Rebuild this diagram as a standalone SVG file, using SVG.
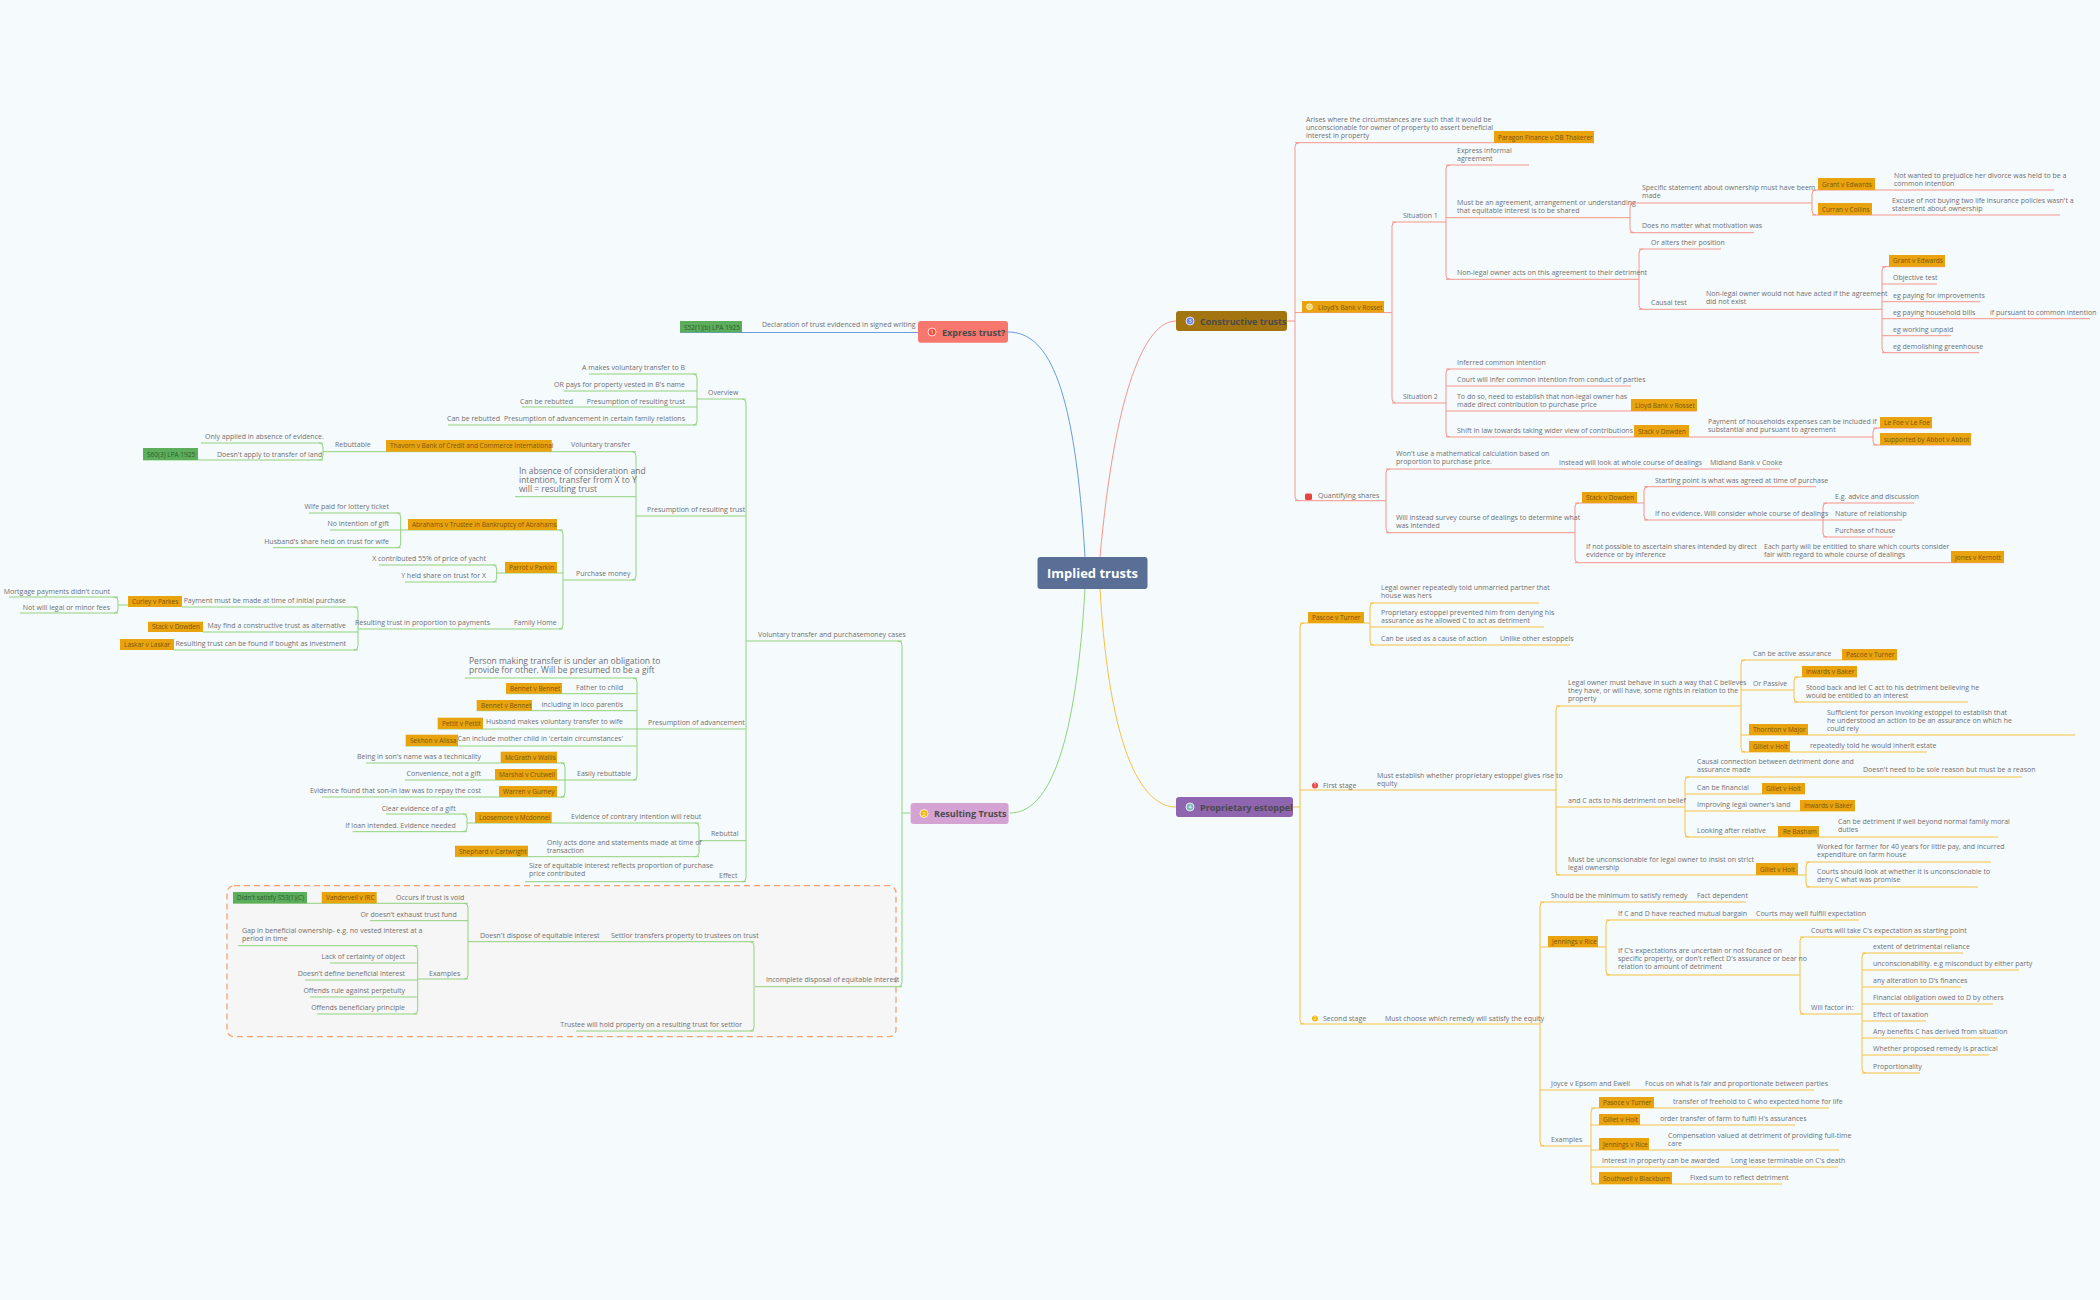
<svg xmlns="http://www.w3.org/2000/svg" width="2100" height="1300" viewBox="0 0 2100 1300">
<style>
text{font-family:"Open Sans","Noto Sans","Liberation Sans",sans-serif}
.t{font-size:7px;fill:#707070}
.L{font-size:8.5px;fill:#707070}
.e{text-anchor:end}
.k{font-size:6.5px;fill:#7a5608}
.kg{font-size:6.5px;fill:#2e5e2e}
.box{fill:#e9a30f}
.gbox{fill:#5cad5c}
path{fill:none}
.r{stroke:#f5958c;stroke-width:1}
.y{stroke:#f6c244;stroke-width:1}
.g{stroke:#92d27c;stroke-width:1}
.b{stroke:#6a9be0;stroke-width:1}
.main{font-size:9px;font-weight:bold;fill:#4a4a4a}
</style>
<rect width="2100" height="1300" fill="#f5fafd"/>
<rect x="227" y="885.7" width="669" height="151" rx="7" fill="#f6f6f6" stroke="#f4a070" stroke-width="1.3" stroke-dasharray="6,4"/>

<g id="connectors">
<path class="b" stroke-width="1.5" d="M1085,557 C1075,390 1050,332 1008,332"/>
<path class="r" stroke-width="1.5" d="M1100,557 C1115,390 1145,321 1176,321"/>
<path class="g" stroke-width="1.5" d="M1085,589 C1075,760 1045,813 1010,813"/>
<path class="y" stroke-width="1.5" d="M1100,589 C1110,760 1145,807 1176,807"/>
<path class="r" d="M1287,321H1295"/>
<path class="r" d="M1299,142.7Q1295,142.7 1295,146.7V496.7Q1295,500.7 1299,500.7"/>
<path class="r" d="M1396,222Q1392,222 1392,226V399Q1392,403 1396,403"/>
<path class="r" d="M1450,165Q1446,165 1446,169V275.3Q1446,279.3 1450,279.3"/>
<path class="r" d="M1634,203Q1630,203 1630,207V228.7Q1630,232.7 1634,232.7"/>
<path class="r" d="M1816,190Q1812,190 1812,194V211Q1812,215 1816,215"/>
<path class="r" d="M1643,249Q1639,249 1639,253V305.3Q1639,309.3 1643,309.3"/>
<path class="r" d="M1886,266.7Q1882,266.7 1882,270.7V348.7Q1882,352.7 1886,352.7"/>
<path class="r" d="M1450,369Q1446,369 1446,373V433Q1446,437 1450,437"/>
<path class="r" d="M1877,428Q1873,428 1873,432V441Q1873,445 1877,445"/>
<path class="r" d="M1390,469Q1386,469 1386,473V528.7Q1386,532.7 1390,532.7"/>
<path class="r" d="M1579,503Q1575,503 1575,507V558.7Q1575,562.7 1579,562.7"/>
<path class="r" d="M1648,486.7Q1644,486.7 1644,490.7V516Q1644,520 1648,520"/>
<path class="r" d="M1827,503Q1823,503 1823,507V533Q1823,537 1827,537"/>
<path class="y" d="M1293,807H1300"/>
<path class="y" d="M1304,623Q1300,623 1300,627V1020Q1300,1024 1304,1024"/>
<path class="y" d="M1374,603Q1370,603 1370,607V641Q1370,645 1374,645"/>
<path class="y" d="M1560,706Q1556,706 1556,710V871Q1556,875 1560,875"/>
<path class="y" d="M1745,660Q1741,660 1741,664V748Q1741,752 1745,752"/>
<path class="y" d="M1798,677Q1794,677 1794,681V698Q1794,702 1798,702"/>
<path class="y" d="M1689,777Q1685,777 1685,781V833Q1685,837 1689,837"/>
<path class="y" d="M1810,862Q1806,862 1806,866V883Q1806,887 1810,887"/>
<path class="y" d="M1544,902Q1540,902 1540,906V1142Q1540,1146 1544,1146"/>
<path class="y" d="M1610,920Q1606,920 1606,924V971Q1606,975 1610,975"/>
<path class="y" d="M1804,937Q1800,937 1800,941V1010Q1800,1014 1804,1014"/>
<path class="y" d="M1866,953Q1862,953 1862,957V1069Q1862,1073 1866,1073"/>
<path class="y" d="M1595,1108Q1591,1108 1591,1112V1180Q1591,1184 1595,1184"/>
<path class="g" d="M910,813H902"/>
<path class="g" d="M898,641Q902,641 902,645V982.7Q902,986.7 898,986.7"/>
<path class="g" d="M742,399Q746,399 746,403V877.7Q746,881.7 742,881.7"/>
<path class="g" d="M693,374Q697,374 697,378V421Q697,425 693,425"/>
<path class="g" d="M632,451.7Q636,451.7 636,455.7V576Q636,580 632,580"/>
<path class="g" d="M319,443Q323,443 323,447V456Q323,460 319,460"/>
<path class="g" d="M559,530Q563,530 563,534V625Q563,629 559,629"/>
<path class="g" d="M396.7,513Q400.7,513 400.7,517V543.7Q400.7,547.7 396.7,547.7"/>
<path class="g" d="M492.7,565Q496.7,565 496.7,569V578Q496.7,582 492.7,582"/>
<path class="g" d="M354,607Q358,607 358,611V646Q358,650 354,650"/>
<path class="g" d="M114,597Q118,597 118,601V609Q118,613 114,613M118,605H128"/>
<path class="g" d="M633,678Q637,678 637,682V776Q637,780 633,780"/>
<path class="g" d="M561,763Q565,763 565,767V793Q565,797 561,797"/>
<path class="g" d="M695,823Q699,823 699,827V852.7Q699,856.7 695,856.7"/>
<path class="g" d="M463,814Q467,814 467,818V827.7Q467,831.7 463,831.7"/>
<path class="g" d="M750,941.7Q754,941.7 754,945.7V1027Q754,1031 750,1031"/>
<path class="g" d="M464,903.3Q468,903.3 468,907.3V975Q468,979 464,979"/>
<path class="g" d="M413.7,945.7Q417.7,945.7 417.7,949.7V1010Q417.7,1014 413.7,1014"/>
</g>

<g id="root"><rect x="1037.5" y="557" width="110" height="32" rx="3" fill="#5a6f96"/><text x="1092.5" y="577.5" text-anchor="middle" font-size="13" font-weight="bold" fill="#ffffff">Implied trusts</text></g>

<g id="express"><rect x="918" y="321" width="90" height="21.7" rx="3" fill="#f7776e"/><circle cx="932" cy="332" r="4" fill="#f24b3f" stroke="#fff" stroke-width="0.8"/><text x="932" y="334.3" font-size="5.5" fill="#fff" text-anchor="middle">1</text><text class="main" x="942" y="335.5">Express trust?</text></g>
<g id="e1"><path class="b" d="M680,332.5H918"/><rect class="gbox" x="680" y="321" width="62" height="11.5"/><text class="kg" x="684" y="329.5">S52(1)(b) LPA 1925</text><text class="t" x="762" y="327">Declaration of trust evidenced in signed writing</text></g>

<g id="constructive"><rect x="1176" y="311" width="111" height="20" rx="3" fill="#a27510"/><circle cx="1190" cy="321" r="4" fill="#6b82e8" stroke="#fff" stroke-width="0.8"/><text x="1190" y="323.3" font-size="5.5" fill="#fff" text-anchor="middle">3</text><text class="main" x="1200" y="324.5">Constructive trusts</text></g>
<g id="c1"><path class="r" d="M1295,142.7H1594"/><text class="t" x="1306" y="122">Arises where the circumstances are such that it would be<tspan x="1306" dy="8">unconscionable for owner of property to assert beneficial</tspan><tspan x="1306" dy="8">interest in property</tspan></text><rect class="box" x="1494" y="131" width="100" height="12"/><text class="k" x="1498" y="139.5">Paragon Finance v DB Thakerer</text></g>
<g id="c2"><path class="r" d="M1295,312.6H1392"/><rect class="box" x="1302" y="301" width="82" height="11.6"/><circle cx="1309.5" cy="306.8" r="3" fill="#f7d46a" stroke="#fff" stroke-width="0.6"/><text class="k" x="1318" y="309.5">Lloyd's Bank v Rosset</text></g>
<g id="c3"><path class="r" d="M1392,222H1446"/><text class="t" x="1403" y="218">Situation 1</text></g>
<g id="c4"><path class="r" d="M1446,165H1529"/><text class="t" x="1457" y="153">Express informal<tspan x="1457" dy="8">agreement</tspan></text></g>
<g id="c5"><path class="r" d="M1446,217.7H1630"/><text class="t" x="1457" y="205">Must be an agreement, arrangement or understanding<tspan x="1457" dy="8">that equitable interest is to be shared</tspan></text></g>
<g id="c6"><path class="r" d="M1630,203H1812"/><text class="t" x="1642" y="190">Specific statement about ownership must have beem<tspan x="1642" dy="8">made</tspan></text></g>
<g id="c7"><path class="r" d="M1812,190H2054"/><rect class="box" x="1818" y="178" width="57" height="12"/><text class="k" x="1822" y="186.5">Grant v Edwards</text><text class="t" x="1894" y="178">Not wanted to prejudice her divorce was held to be a<tspan x="1894" dy="8">common intention</tspan></text></g>
<g id="c8"><path class="r" d="M1812,215H2060"/><rect class="box" x="1818" y="203" width="54" height="12"/><text class="k" x="1822" y="211.5">Curran v Collins</text><text class="t" x="1892" y="203">Excuse of not buying two life insurance policies wasn't a<tspan x="1892" dy="8">statement about ownership</tspan></text></g>
<g id="c9"><path class="r" d="M1630,232.7H1754"/><text class="t" x="1642" y="228">Does no matter what motivation was</text></g>
<g id="c10"><path class="r" d="M1446,279.3H1639"/><text class="t" x="1457" y="275">Non-legal owner acts on this agreement to their detriment</text></g>
<g id="c11"><path class="r" d="M1639,249H1721"/><text class="t" x="1651" y="245">Or alters their position</text></g>
<g id="c12"><path class="r" d="M1639,309.3H1882"/><text class="t" x="1651" y="305">Causal test</text><text class="t" x="1706" y="296">Non-legal owner would not have acted if the agreement<tspan x="1706" dy="8">did not exist</tspan></text></g>
<g id="c13"><path class="r" d="M1882,266.7H1945"/><rect class="box" x="1889" y="255" width="56" height="11.7"/><text class="k" x="1893" y="263.3">Grant v Edwards</text></g>
<g id="c14"><path class="r" d="M1882,284H1937"/><text class="t" x="1893" y="280">Objective test</text></g>
<g id="c15"><path class="r" d="M1882,301.7H1980"/><text class="t" x="1893" y="297.5">eg paying for improvements</text></g>
<g id="c16"><path class="r" d="M1882,318.7H2090"/><text class="t" x="1893" y="314.5">eg paying household bills</text><text class="t" x="1990" y="314.5">if pursuant to common intention</text></g>
<g id="c17"><path class="r" d="M1882,335.7H1951"/><text class="t" x="1893" y="331.5">eg working unpaid</text></g>
<g id="c18"><path class="r" d="M1882,352.7H1979"/><text class="t" x="1893" y="348.5">eg demolishing greenhouse</text></g>
<g id="c19"><path class="r" d="M1392,403H1446"/><text class="t" x="1403" y="399">Situation 2</text></g>
<g id="c20"><path class="r" d="M1446,369H1541"/><text class="t" x="1457" y="365">Inferred common intention</text></g>
<g id="c21"><path class="r" d="M1446,386H1631"/><text class="t" x="1457" y="382">Court will infer common intention from conduct of parties</text></g>
<g id="c22"><path class="r" d="M1446,411H1697"/><text class="t" x="1457" y="399">To do so, need to establish that non-legal owner has<tspan x="1457" dy="8">made direct contribution to purchase price</tspan></text><rect class="box" x="1631" y="399" width="66" height="12"/><text class="k" x="1635" y="407.5">Lloyd Bank v Rosset</text></g>
<g id="c23"><path class="r" d="M1446,437H1873"/><text class="t" x="1457" y="433">Shift in law towards taking wider view of contributions</text><rect class="box" x="1634" y="425" width="55" height="12"/><text class="k" x="1638" y="433.5">Stack v Dowden</text><text class="t" x="1708" y="424">Payment of households expenses can be included if<tspan x="1708" dy="8">substantial and pursuant to agreement</tspan></text></g>
<g id="c24"><path class="r" d="M1873,428H1932"/><rect class="box" x="1880" y="417" width="52" height="11"/><text class="k" x="1884" y="425">Le Foe v Le Foe</text></g>
<g id="c25"><path class="r" d="M1873,445H1971"/><rect class="box" x="1880" y="433" width="91" height="12"/><text class="k" x="1884" y="441.5">supported by Abbot v Abbot</text></g>
<g id="c26"><path class="r" d="M1295,500.7H1386"/><rect x="1305" y="493.5" width="7" height="6.5" rx="1.5" fill="#e8453c"/><text class="t" x="1318" y="498">Quantifying shares</text></g>
<g id="c27"><path class="r" d="M1386,469H1780"/><text class="t" x="1396" y="456">Won't use a mathematical calculation based on<tspan x="1396" dy="8">proportion to purchase price.</tspan></text><text class="t" x="1559" y="464.5">Instead will look at whole course of dealings</text><text class="t" x="1710" y="464.5">Midland Bank v Cooke</text></g>
<g id="c28"><path class="r" d="M1386,532.7H1575"/><text class="t" x="1396" y="520">Will instead survey course of dealings to determine what<tspan x="1396" dy="8">was intended</tspan></text></g>
<g id="c29"><path class="r" d="M1575,503H1644"/><rect class="box" x="1582" y="492" width="55" height="11"/><text class="k" x="1586" y="500">Stack v Dowden</text></g>
<g id="c30"><path class="r" d="M1644,486.7H1816"/><text class="t" x="1655" y="482.5">Starting point is what was agreed at time of purchase</text></g>
<g id="c31"><path class="r" d="M1644,520H1823"/><text class="t" x="1655" y="516">If no evidence. Will consider whole course of dealings</text></g>
<g id="c32"><path class="r" d="M1823,503H1914"/><text class="t" x="1835" y="499">E.g. advice and discussion</text></g>
<g id="c33"><path class="r" d="M1823,520H1902"/><text class="t" x="1835" y="516">Nature of relationship</text></g>
<g id="c34"><path class="r" d="M1823,537H1893"/><text class="t" x="1835" y="533">Purchase of house</text></g>
<g id="c35"><path class="r" d="M1575,562.7H2004"/><text class="t" x="1586" y="549">If not possible to ascertain shares intended by direct<tspan x="1586" dy="8">evidence or by inference</tspan></text><text class="t" x="1764" y="549">Each party will be entitled to share which courts consider<tspan x="1764" dy="8">fair with regard to whole course of dealings</tspan></text><rect class="box" x="1951" y="551" width="53" height="11.7"/><text class="k" x="1955" y="559.5">Jones v Kernott</text></g>

<g id="estoppel"><rect x="1176" y="797" width="117" height="20" rx="3" fill="#9065b0"/><circle cx="1190" cy="807" r="4" fill="#7bb5b5" stroke="#fff" stroke-width="0.8"/><text x="1190" y="809.3" font-size="5.5" fill="#fff" text-anchor="middle">4</text><text class="main" x="1200" y="810.5">Proprietary estoppel</text></g>
<g id="p1"><path class="y" d="M1300,623H1370"/><rect class="box" x="1308" y="612" width="56" height="11"/><text class="k" x="1312" y="620">Pascoe v Turner</text></g>
<g id="p2"><path class="y" d="M1370,603H1539"/><text class="t" x="1381" y="590">Legal owner repeatedly told unmarried partner that<tspan x="1381" dy="8">house was hers</tspan></text></g>
<g id="p3"><path class="y" d="M1370,627H1544"/><text class="t" x="1381" y="615">Proprietary estoppel prevented him from denying his<tspan x="1381" dy="8">assurance as he allowed C to act as detriment</tspan></text></g>
<g id="p4"><path class="y" d="M1370,645H1570"/><text class="t" x="1381" y="641">Can be used as a cause of action</text><text class="t" x="1500" y="641">Unlike other estoppels</text></g>
<g id="p5"><path class="y" d="M1300,790H1556"/><circle cx="1315" cy="785.5" r="3" fill="#e8453c"/><text x="1315" y="787.3" font-size="4.5" fill="#fff" text-anchor="middle">1</text><text class="t" x="1323" y="787.5">First stage</text><text class="t" x="1377" y="778">Must establish whether proprietary estoppel gives rise to<tspan x="1377" dy="8">equity</tspan></text></g>
<g id="p6"><path class="y" d="M1556,706H1741"/><text class="t" x="1568" y="685">Legal owner must behave in such a way that C believes<tspan x="1568" dy="8">they have, or will have, some rights in relation to the</tspan><tspan x="1568" dy="8">property</tspan></text></g>
<g id="p7"><path class="y" d="M1741,660H1897"/><text class="t" x="1753" y="656">Can be active assurance</text><rect class="box" x="1842" y="649" width="55" height="11"/><text class="k" x="1846" y="657">Pascoe v Turner</text></g>
<g id="p8"><path class="y" d="M1741,690H1794"/><text class="t" x="1753" y="686">Or Passive</text></g>
<g id="p9"><path class="y" d="M1794,677H1857"/><rect class="box" x="1802" y="666" width="55" height="11"/><text class="k" x="1806" y="674">Inwards v Baker</text></g>
<g id="p10"><path class="y" d="M1794,702H1968"/><text class="t" x="1806" y="690">Stood back and let C act to his detriment believing he<tspan x="1806" dy="8">would be entitled to an interest</tspan></text></g>
<g id="p11"><path class="y" d="M1741,735H2075"/><rect class="box" x="1749" y="724" width="59" height="11"/><text class="k" x="1753" y="732">Thornton v Major</text><text class="t" x="1827" y="715">Sufficient for person invoking estoppel to establish that<tspan x="1827" dy="8">he understood an action to be an assurance on which he</tspan><tspan x="1827" dy="8">could rely</tspan></text></g>
<g id="p12"><path class="y" d="M1741,752H1927"/><rect class="box" x="1749" y="741" width="41" height="11"/><text class="k" x="1753" y="749">Gillet v Holt</text><text class="t" x="1810" y="748">repeatedly told he would inherit estate</text></g>
<g id="p13"><path class="y" d="M1556,807H1685"/><text class="t" x="1568" y="803">and C acts to his detriment on belief</text></g>
<g id="p14"><path class="y" d="M1685,777H2022"/><text class="t" x="1697" y="764">Causal connection between detriment done and<tspan x="1697" dy="8">assurance made</tspan></text><text class="t" x="1863" y="772">Doesn't need to be sole reason but must be a reason</text></g>
<g id="p15"><path class="y" d="M1685,794H1805"/><text class="t" x="1697" y="790">Can be financial</text><rect class="box" x="1762" y="783" width="43" height="11"/><text class="k" x="1766" y="791">Gillet v Holt</text></g>
<g id="p16"><path class="y" d="M1685,811H1855"/><text class="t" x="1697" y="807">Improving legal owner's land</text><rect class="box" x="1800" y="800" width="55" height="11"/><text class="k" x="1804" y="808">Inwards v Baker</text></g>
<g id="p17"><path class="y" d="M1685,837H1998"/><text class="t" x="1697" y="833">Looking after relative</text><rect class="box" x="1778" y="826" width="41" height="11"/><text class="k" x="1783" y="834">Re Basham</text><text class="t" x="1838" y="824">Can be detriment if well beyond normal family moral<tspan x="1838" dy="8">duties</tspan></text></g>
<g id="p18"><path class="y" d="M1556,875H1806"/><text class="t" x="1568" y="862">Must be unconscionable for legal owner to insist on strict<tspan x="1568" dy="8">legal ownership</tspan></text><rect class="box" x="1756" y="863" width="42" height="12"/><text class="k" x="1760" y="871.5">Gillet v Holt</text></g>
<g id="p19"><path class="y" d="M1806,862H1991"/><text class="t" x="1817" y="849">Worked for farmer for 40 years for little pay, and incurred<tspan x="1817" dy="8">expenditure on farm house</tspan></text></g>
<g id="p20"><path class="y" d="M1806,887H1978"/><text class="t" x="1817" y="874">Courts should look at whether it is unconscionable to<tspan x="1817" dy="8">deny C what was promise</tspan></text></g>
<g id="p21"><path class="y" d="M1300,1024H1540"/><circle cx="1315" cy="1018.5" r="3" fill="#f5b700"/><text x="1315" y="1020.3" font-size="4.5" fill="#fff" text-anchor="middle">2</text><text class="t" x="1323" y="1020.5">Second stage</text><text class="t" x="1385" y="1020.5">Must choose which remedy will satisfy the equity</text></g>
<g id="p22"><path class="y" d="M1540,902H1746"/><text class="t" x="1551" y="897.5">Should be the minimum to satisfy remedy</text><text class="t" x="1697" y="897.5">Fact dependent</text></g>
<g id="p23"><path class="y" d="M1540,947H1606"/><rect class="box" x="1548" y="936" width="50" height="11"/><text class="k" x="1552" y="944">Jennings v Rice</text></g>
<g id="p24"><path class="y" d="M1606,920H1859"/><text class="t" x="1618" y="915.5">If C and D have reached mutual bargain</text><text class="t" x="1756" y="915.5">Courts may well fulfill expectation</text></g>
<g id="p25"><path class="y" d="M1606,975H1800"/><text class="t" x="1618" y="953">If C's expectations are uncertain or not focused on<tspan x="1618" dy="8">specific property, or don't reflect D's assurance or bear no</tspan><tspan x="1618" dy="8">relation to amount of detriment</tspan></text></g>
<g id="p26"><path class="y" d="M1800,937H1952"/><text class="t" x="1811" y="933">Courts will take C's expectation as starting point</text></g>
<g id="p27"><path class="y" d="M1800,1014H1862"/><text class="t" x="1811" y="1010">Will factor in:</text></g>
<g id="p28"><path class="y" d="M1862,953H1963"/><text class="t" x="1873" y="949">extent of detrimental reliance</text></g>
<g id="p29"><path class="y" d="M1862,970H2019"/><text class="t" x="1873" y="966">unconscionability. e.g misconduct by either party</text></g>
<g id="p30"><path class="y" d="M1862,987H1961"/><text class="t" x="1873" y="983">any alteration to D's finances</text></g>
<g id="p31"><path class="y" d="M1862,1004H1993"/><text class="t" x="1873" y="1000">Financial obligation owed to D by others</text></g>
<g id="p32"><path class="y" d="M1862,1021H1926"/><text class="t" x="1873" y="1017">Effect of taxation</text></g>
<g id="p33"><path class="y" d="M1862,1038H1997"/><text class="t" x="1873" y="1034">Any benefits C has derived from situation</text></g>
<g id="p34"><path class="y" d="M1862,1055H1989"/><text class="t" x="1873" y="1051">Whether proposed remedy is practical</text></g>
<g id="p35"><path class="y" d="M1862,1073H1920"/><text class="t" x="1873" y="1069">Proportionality</text></g>
<g id="p36"><path class="y" d="M1540,1090H1814"/><text class="t" x="1551" y="1086">Joyce v Epsom and Ewell</text><text class="t" x="1645" y="1086">Focus on what is fair and proportionate between parties</text></g>
<g id="p37"><path class="y" d="M1540,1146H1591"/><text class="t" x="1551" y="1142">Examples</text></g>
<g id="p38"><path class="y" d="M1591,1108H1829"/><rect class="box" x="1599" y="1097" width="55" height="11"/><text class="k" x="1603" y="1105">Pasoce v Turner</text><text class="t" x="1673" y="1104">transfer of freehold to C who expected home for life</text></g>
<g id="p39"><path class="y" d="M1591,1125H1795"/><rect class="box" x="1599" y="1114" width="41" height="11"/><text class="k" x="1603" y="1122">Gillet v Holt</text><text class="t" x="1660" y="1121">order transfer of farm to fulfil H's assurances</text></g>
<g id="p40"><path class="y" d="M1591,1150H1839"/><rect class="box" x="1599" y="1138" width="50" height="12"/><text class="k" x="1603" y="1146.5">Jennings v Rice</text><text class="t" x="1668" y="1138">Compensation valued at detriment of providing full-time<tspan x="1668" dy="8">care</tspan></text></g>
<g id="p41"><path class="y" d="M1591,1167H1838"/><text class="t" x="1602" y="1163">Interest in property can be awarded</text><text class="t" x="1731" y="1163">Long lease terminable on C's death</text></g>
<g id="p42"><path class="y" d="M1591,1184H1782"/><rect class="box" x="1599" y="1172" width="73" height="12"/><text class="k" x="1603" y="1180.5">Southwell v Blackburn</text><text class="t" x="1690" y="1180">Fixed sum to reflect detriment</text></g>

<g id="resulting"><rect x="910.6" y="803" width="98" height="21" rx="3" fill="#d4a3d4"/><circle cx="924" cy="813.5" r="4" fill="#f5b700" stroke="#fff" stroke-width="0.8"/><text x="924" y="815.8" font-size="5.5" fill="#fff" text-anchor="middle">2</text><text class="main" x="934" y="817">Resulting Trusts</text></g>
<g id="r1"><path class="g" d="M746,641H902"/><text class="t" x="758" y="637">Voluntary transfer and purchasemoney cases</text></g>
<g id="r2"><path class="g" d="M697,399H746"/><text class="t" x="708" y="395">Overview</text></g>
<g id="r3"><path class="g" d="M589,374H697"/><text class="t e" x="685" y="370">A makes voluntary transfer to B</text></g>
<g id="r4"><path class="g" d="M564,391H697"/><text class="t e" x="685" y="387">OR pays for property vested in B's name</text></g>
<g id="r5"><path class="g" d="M522,407H697"/><text class="t e" x="685" y="403.5">Presumption of resulting trust</text><text class="t e" x="573" y="403.5">Can be rebutted</text></g>
<g id="r6"><path class="g" d="M448,425H697"/><text class="t e" x="685" y="420.5">Presumption of advancement in certain family relations</text><text class="t e" x="500" y="420.5">Can be rebutted</text></g>
<g id="r7"><path class="g" d="M636,516H746"/><text class="t" x="647" y="512">Presumption of resulting trust</text></g>
<g id="r8"><path class="g" d="M323,451.7H636"/><text class="t" x="571" y="447">Voluntary transfer</text><rect class="box" x="386" y="440" width="165.7" height="11.7"/><text class="k" x="390" y="448.3">Thavorn v Bank of Credit and Commerce International</text><text class="t" x="335" y="447">Rebuttable</text></g>
<g id="r9"><path class="g" d="M201,443H323"/><text class="t" x="205" y="439">Only applied in absence of evidence.</text></g>
<g id="r10"><path class="g" d="M143,460H323"/><rect class="gbox" x="143" y="448" width="55" height="12"/><text class="kg" x="147" y="456.5">S60(3) LPA 1925</text><text class="t" x="217" y="456.5">Doesn't apply to transfer of land</text></g>
<g id="r11"><path class="g" d="M515,496.7H636"/><text class="L" x="519" y="474">In absence of consideration and<tspan x="519" dy="9">intention, transfer from X to Y</tspan><tspan x="519" dy="9">will = resulting trust</tspan></text></g>
<g id="r12"><path class="g" d="M563,580H636"/><text class="t" x="576" y="576">Purchase money</text></g>
<g id="r13"><path class="g" d="M400.7,530H563"/><rect class="box" x="408" y="519" width="149" height="11"/><text class="k" x="412" y="527">Abrahams v Trustee in Bankruptcy of Abrahams</text></g>
<g id="r14"><path class="g" d="M309,513H400.7"/><text class="t e" x="389" y="509">Wife paid for lottery ticket</text></g>
<g id="r15"><path class="g" d="M330,530H400.7"/><text class="t e" x="389" y="526">No intention of gift</text></g>
<g id="r16"><path class="g" d="M273,547.7H400.7"/><text class="t e" x="389" y="543.5">Husband's share held on trust for wife</text></g>
<g id="r17"><path class="g" d="M496.7,573H563"/><rect class="box" x="505" y="562" width="52" height="11"/><text class="k" x="509" y="570">Parrot v Parkin</text></g>
<g id="r18"><path class="g" d="M379,565H496.7"/><text class="t e" x="486" y="561">X contributed 55% of price of yacht</text></g>
<g id="r19"><path class="g" d="M405,582H496.7"/><text class="t e" x="486" y="578">Y held share on trust for X</text></g>
<g id="r20"><path class="g" d="M358,629H563"/><text class="t" x="514" y="625">Family Home</text><text class="t e" x="490" y="625">Resulting trust in proportion to payments</text></g>
<g id="r21"><path class="g" d="M182,607H358"/><rect class="box" x="128" y="596" width="54" height="11"/><text class="k" x="132" y="604">Curley v Parkes</text><text class="t e" x="346" y="603">Payment must be made at time of initial purchase</text></g>
<g id="r22"><path class="g" d="M9,597H118"/><text class="t e" x="110" y="593.5">Mortgage payments didn't count</text></g>
<g id="r23"><path class="g" d="M20,613H118"/><text class="t e" x="110" y="609.5">Not will legal or minor fees</text></g>
<g id="r24"><path class="g" d="M203,632H358"/><rect class="box" x="148" y="621.7" width="55" height="10.3"/><text class="k" x="152" y="629.3">Stack v Dowden</text><text class="t e" x="346" y="628">May find a constructive trust as alternative</text></g>
<g id="r25"><path class="g" d="M174,650H358"/><rect class="box" x="120" y="639" width="54" height="11"/><text class="k" x="124" y="647">Laskar v Laskar</text><text class="t e" x="346" y="646">Resulting trust can be found if bought as investment</text></g>
<g id="r26"><path class="g" d="M637,729H746"/><text class="t" x="648" y="725">Presumption of advancement</text></g>
<g id="r27"><path class="g" d="M465,678H637"/><text class="L" x="469" y="664">Person making transfer is under an obligation to<tspan x="469" dy="9">provide for other. Will be presumed to be a gift</tspan></text></g>
<g id="r28"><path class="g" d="M506,693.7H637"/><rect class="box" x="506" y="683" width="56" height="10.7"/><text class="k" x="510" y="690.8">Bennet v Bennet</text><text class="t e" x="623" y="689.5">Father to child</text></g>
<g id="r29"><path class="g" d="M476.7,710.7H637"/><rect class="box" x="476.7" y="700" width="55.3" height="10.7"/><text class="k" x="481" y="707.8">Bennet v Bennet</text><text class="t e" x="623" y="706.5">including in loco parentis</text></g>
<g id="r30"><path class="g" d="M437.7,729H637"/><rect class="box" x="437.7" y="717.7" width="45.3" height="11.3"/><text class="k" x="442" y="725.8">Pettit v Pettit</text><text class="t e" x="623" y="723.5">Husband makes voluntary transfer to wife</text></g>
<g id="r31"><path class="g" d="M405.7,746H637"/><rect class="box" x="405.7" y="734.7" width="52.3" height="11.3"/><text class="k" x="410" y="742.8">Sekhon v Alissa</text><text class="t e" x="623" y="740.5">Can include mother child in 'certain circumstances'</text></g>
<g id="r32"><path class="g" d="M565,780H637"/><text class="t" x="577" y="776">Easily rebuttable</text></g>
<g id="r33"><path class="g" d="M366,763H565"/><rect class="box" x="500.7" y="751.7" width="56.3" height="11.3"/><text class="k" x="505" y="759.8">McGrath v Wallis</text><text class="t e" x="481" y="759">Being in son's name was a technicality</text></g>
<g id="r34"><path class="g" d="M405,780H565"/><rect class="box" x="495" y="769" width="62" height="11"/><text class="k" x="499" y="777">Marshal v Crutwell</text><text class="t e" x="481" y="776">Convenience, not a gift</text></g>
<g id="r35"><path class="g" d="M322,797H565"/><rect class="box" x="499" y="786" width="58" height="11"/><text class="k" x="503" y="794">Warren v Gurney</text><text class="t e" x="481" y="793">Evidence found that son-in law was to repay the cost</text></g>
<g id="r36"><path class="g" d="M699,840.7H746"/><text class="t" x="711" y="836">Rebuttal</text></g>
<g id="r37"><path class="g" d="M467,823H699"/><rect class="box" x="475" y="812" width="76.7" height="11"/><text class="k" x="479" y="820">Loosemore v Mcdonnel</text><text class="t" x="571" y="819">Evidence of contrary intention will rebut</text></g>
<g id="r38"><path class="g" d="M386,814H467"/><text class="t e" x="455.7" y="810.5">Clear evidence of a gift</text></g>
<g id="r39"><path class="g" d="M352.7,831.7H467"/><text class="t e" x="455.7" y="827.5">If loan intended. Evidence needed</text></g>
<g id="r40"><path class="g" d="M455,856.7H699"/><rect class="box" x="455" y="845.7" width="73" height="11"/><text class="k" x="459" y="853.7">Shephard v Cartwright</text><text class="t" x="547" y="845">Only acts done and statements made at time of<tspan x="547" dy="8">transaction</tspan></text></g>
<g id="r41"><path class="g" d="M525,881.7H746"/><text class="t" x="529" y="868">Size of equitable interest reflects proportion of purchase<tspan x="529" dy="8">price contributed</tspan></text><text class="t" x="719" y="877.5">Effect</text></g>
<g id="r42"><path class="g" d="M755,986.7H902"/><text class="t" x="766" y="982">Incomplete disposal of equitable interest</text></g>
<g id="r43"><path class="g" d="M468,941.7H754"/><text class="t" x="480" y="937.5">Doesn't dispose of equitable interest</text><text class="t" x="611" y="937.5">Settlor transfers property to trustees on trust</text></g>
<g id="r44"><path class="g" d="M233,903.3H468"/><rect class="gbox" x="233" y="892" width="74" height="11.3"/><text class="kg" x="237" y="900">Didn't satisfy S53(1)(C)</text><rect class="box" x="321.7" y="892" width="55" height="11.3"/><text class="k" x="326" y="900">Vandervell v IRC</text><text class="t" x="396" y="899.5">Occurs if trust is void</text></g>
<g id="r45"><path class="g" d="M370,920.7H468"/><text class="t e" x="456.7" y="916.5">Or doesn't exhaust trust fund</text></g>
<g id="r46"><path class="g" d="M417.7,979H468"/><text class="t" x="429" y="975.5">Examples</text></g>
<g id="r47"><path class="g" d="M238,945.7H417.7"/><text class="t" x="242" y="932.5">Gap in beneficial ownership- e.g. no vested interest at a<tspan x="242" dy="8">period in time</tspan></text></g>
<g id="r48"><path class="g" d="M330,963H417.7"/><text class="t e" x="405" y="959">Lack of certainty of object</text></g>
<g id="r49"><path class="g" d="M305,980H417.7"/><text class="t e" x="405" y="976">Doesn't define beneficial interest</text></g>
<g id="r50"><path class="g" d="M310,997H417.7"/><text class="t e" x="405" y="993">Offends rule against perpetuity</text></g>
<g id="r51"><path class="g" d="M317,1014H417.7"/><text class="t e" x="405" y="1010">Offends beneficiary principle</text></g>
<g id="r52"><path class="g" d="M576,1031H754"/><text class="t e" x="742" y="1026.5">Trustee will hold property on a resulting trust for settlor</text></g>
</svg>
